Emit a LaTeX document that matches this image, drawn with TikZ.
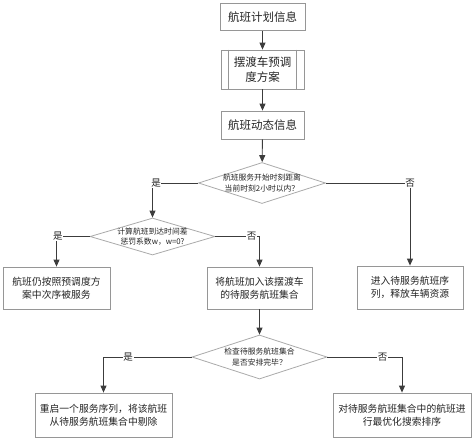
\documentclass[tikz,border=0pt]{standalone}
\usepackage{fontspec}
\setmainfont{Noto Sans CJK SC}
\usetikzlibrary{shapes.geometric,arrows.meta}
\definecolor{boxc}{RGB}{150,150,150}
\definecolor{diac}{RGB}{170,170,170}
\definecolor{linec}{RGB}{60,60,60}
\definecolor{txtc}{RGB}{35,35,35}
\tikzset{
  box/.style={draw=boxc, line width=0.8pt, rectangle, inner sep=0pt, align=center, text=txtc},
  big/.style={font=\fontsize{11.5}{15}\selectfont},
  mid/.style={font=\fontsize{9.8}{13.5}\selectfont},
  dia/.style={draw=diac, line width=0.8pt, diamond, inner sep=0pt},
  dtext/.style={align=center, text=txtc, font=\fontsize{7.8}{10.5}\selectfont},
  conn/.style={draw=linec, line width=0.9pt},
  arr/.style={conn, -{Triangle[length=7pt,width=6pt]}},
  lab/.style={fill=white, inner sep=0.6pt, text=txtc, font=\fontsize{9.5}{10}\selectfont}
}
\begin{document}
\begin{tikzpicture}[x=1pt,y=-1pt]
\useasboundingbox (0,0) rectangle (474,440);
% boxes
\node[box,big,minimum width=85pt,minimum height=27pt] (b1) at (262.5,17) {航班计划信息};
\node[box,big,minimum width=83pt,minimum height=39pt] (b2) at (262.5,69.5) {摆渡车预调\\度方案};
\draw[boxc,line width=0.8pt] ([xshift=8pt]b2.north west) -- ([xshift=8pt]b2.south west);
\draw[boxc,line width=0.8pt] ([xshift=-8pt]b2.north east) -- ([xshift=-8pt]b2.south east);
\node[box,big,minimum width=83pt,minimum height=28pt] (b3) at (262.5,125) {航班动态信息};
% diamond 1
\node[dia,minimum width=127pt,minimum height=41pt] (d1) at (262,183) {};
\node[dtext] (t1) at (d1) {航班服务开始时刻距离\\当前时刻2小时以内？};
% diamond 2
\node[dia,minimum width=125pt,minimum height=37pt] (d2) at (152.5,236.5) {};
\node[dtext] (t2) at (d2) {计算航班到达时间差\\惩罚系数\textit{w}，\textit{w}=0?};
% middle boxes
\node[box,mid,minimum width=107pt,minimum height=42pt] (bl) at (56.5,288) {航班仍按照预调度方\\案中次序被服务};
\node[box,mid,minimum width=105pt,minimum height=42pt] (bm) at (259.5,288) {将航班加入该摆渡车\\的待服务航班集合};
\node[box,mid,minimum width=106pt,minimum height=43pt] (br) at (410,287.5) {进入待服务航班序\\列，释放车辆资源};
% diamond 3
\node[dia,minimum width=135pt,minimum height=44pt] (d3) at (259.5,357) {};
\node[dtext] (t3) at (d3) {检查待服务航班集合\\是否安排完毕？};
% bottom boxes
\node[box,mid,minimum width=137pt,minimum height=44pt] (bll) at (103.5,415) {重启一个服务序列，将该航班\\从待服务航班集合中剔除};
\node[box,mid,minimum width=138pt,minimum height=44pt] (blr) at (402,415) {对待服务航班集合中的航班进\\行最优化搜索排序};
% connectors
\draw[arr] (b1) -- (b2);
\draw[arr] (b2) -- (b3);
\draw[arr] (b3) -- (d1);
\draw[arr] (d1.west) -| node[lab,pos=0.46] {是} (d2.north);
\draw[arr] (d1.east) -| node[lab,pos=0.5] {否} (br.north);
\draw[arr] (d2.west) -| node[lab,pos=0.48] {是} (bl.north);
\draw[arr] (d2.east) -| node[lab,pos=0.41] {否} (bm.north);
\draw[arr] (bm) -- (d3);
\draw[arr] (d3.west) -| node[lab,pos=0.36] {是} (bll.north);
\draw[arr] (d3.east) -| node[lab,pos=0.37] {否} (blr.north);
\end{tikzpicture}
\end{document}
